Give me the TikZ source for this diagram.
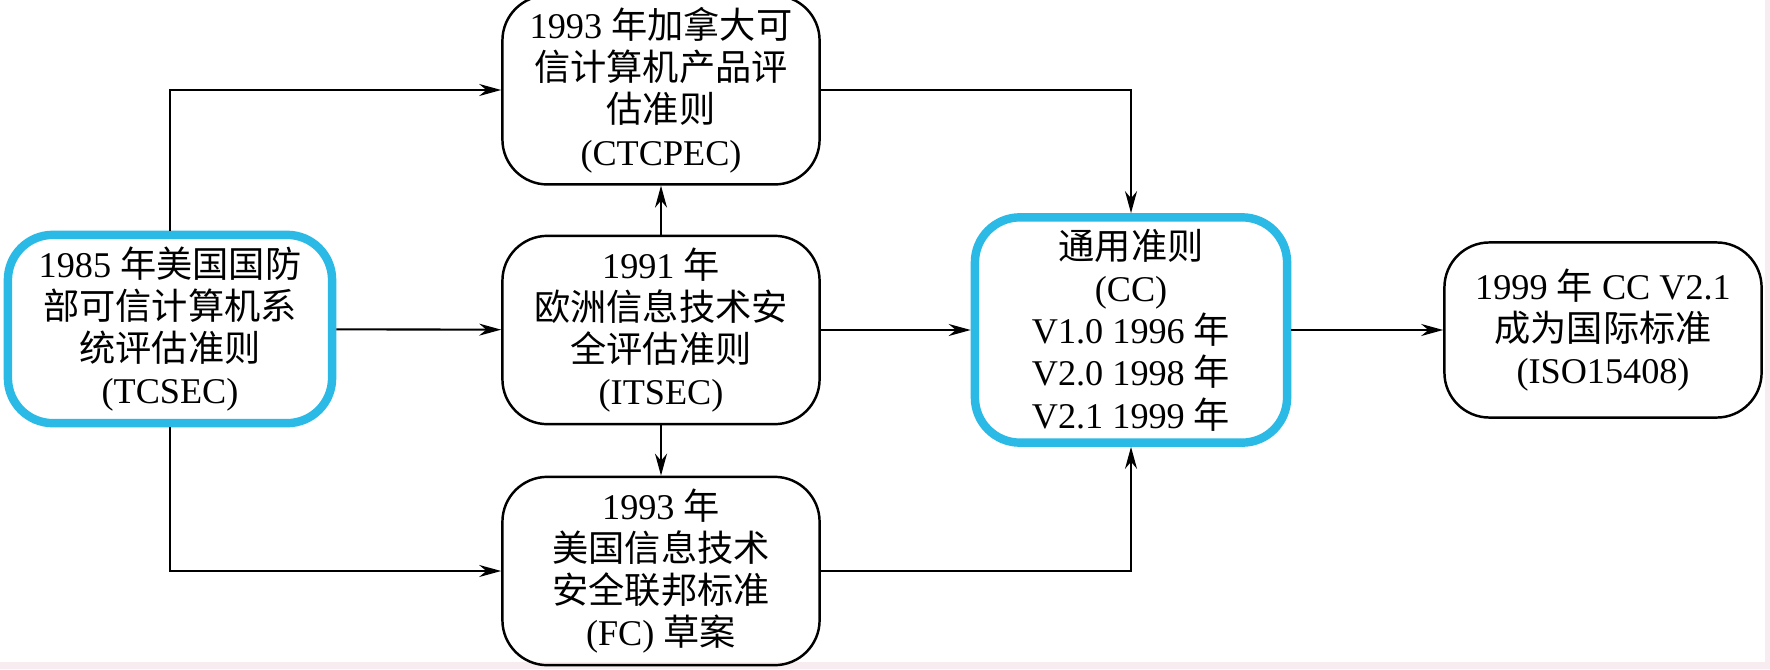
\documentclass[tikz,border=0pt]{standalone}
\usepackage{fontspec}
\setmainfont{Liberation Serif}
\newfontfamily\cjk{Noto Sans CJK SC}
\usetikzlibrary{arrows.meta,calc}
\newcommand{\zh}[1]{{\cjk #1}}
\definecolor{hlblue}{HTML}{2BB9E6}
\definecolor{pagebg}{HTML}{F7ECEF}

\begin{document}
\begin{tikzpicture}[x=0.01cm, y=0.01cm, thick,
    box/.style = {draw, line width=0.7pt, rounded corners=0.45cm, align=center,
                  minimum width=3.17cm, minimum height=1.72cm, font=\fontsize{10.3}{12}\selectfont},
    hl/.style = {draw=hlblue, line width=2.4pt},
    link/.style = {line width=0.6pt, -{Stealth[length=2.2mm, width=1.2mm]}}]
    % page
    \fill[pagebg] (0,0) rectangle (1770,669);
    \fill[white] (0,7) rectangle (1765,669);
    \useasboundingbox (0,0) rectangle (1770,669);

    \node[box, hl, minimum width=3.24cm, minimum height=1.74cm] (tcsec) at (170,340) {1985 \zh{年美国国防}\\\zh{部可信计算机系}\\\zh{统评估准则}\\(TCSEC)};
    \node[box] (ctcpec) at (661,579) {1993 \zh{年加拿大可}\\\zh{信计算机产品评}\\\zh{估准则}\\(CTCPEC)};
    \node[box, minimum height=1.75cm] (itsec) at (661,339) {1991 \zh{年}\\\zh{欧洲信息技术安}\\\zh{全评估准则}\\(ITSEC)};
    \node[box, minimum height=1.70cm] (fc) at (661,98) {1993 \zh{年}\\\zh{美国信息技术}\\\zh{安全联邦标准}\\(FC) \zh{草案}};
    \node[box, hl, minimum width=3.12cm, minimum height=2.05cm] (cc) at (1131,339) {\zh{通用准则}\\(CC)\\V1.0 1996 \zh{年}\\V2.0 1998 \zh{年}\\V2.1 1999 \zh{年}};
    \node[box, minimum height=1.75cm] (iso) at (1603,339) {1999 \zh{年} CC V2.1\\\zh{成为国际标准}\\(ISO15408)};

    \draw[link] (tcsec) -- (itsec);
    \draw[link] (itsec) -- (cc);
    \draw[link] (cc) -- (iso);
    \draw[link] (itsec) -- (ctcpec);
    \draw[link] (itsec) -- (fc);
    \draw[link] (tcsec.north) |- (ctcpec.west);
    \draw[link] (tcsec.south) |- (fc.west);
    \draw[link] (ctcpec.east) -| (cc.north);
    \draw[link] (fc.east) -| (cc.south);
\end{tikzpicture}
\end{document}
